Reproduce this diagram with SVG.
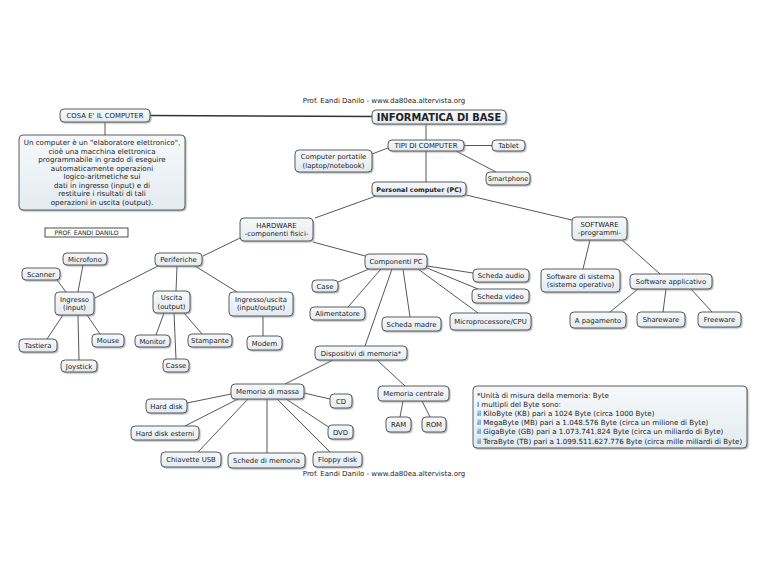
<svg xmlns="http://www.w3.org/2000/svg" width="768" height="578" viewBox="0 0 768 578">
<defs>
<linearGradient id="g" x1="0" y1="0" x2="0" y2="1"><stop offset="0" stop-color="#f6f9fb"/><stop offset="1" stop-color="#e3ebf0"/></linearGradient>
<filter id="sh" x="-10%" y="-20%" width="130%" height="150%"><feDropShadow dx="1.2" dy="1.2" stdDeviation="0.6" flood-color="#888" flood-opacity="0.6"/></filter>
</defs>
<style>
.n rect{fill:url(#g);stroke:#4a4a4a;stroke-width:0.9;filter:url(#sh)}
text{font-family:"DejaVu Sans","Liberation Sans",sans-serif;font-size:6.9px;fill:#222;text-anchor:middle}
.b{font-weight:bold}
.l{text-anchor:start}
.d{font-size:7.1px}
.t{font-size:7.1px;text-anchor:start}
#conn line{stroke:#444;stroke-width:0.9}
</style>
<rect width="768" height="578" fill="#fff"/>
<text x="384" y="103" style="font-size:7px">Prof. Eandi Danilo - www.da80ea.altervista.org</text>
<text x="384" y="476" style="font-size:7px">Prof. Eandi Danilo - www.da80ea.altervista.org</text>
<g id="conn">
<line x1="150" y1="115.5" x2="372" y2="116.5" style="stroke-width:1.6;stroke:#333"/>
<line x1="105" y1="122" x2="105" y2="135"/>
<line x1="426" y1="124" x2="426" y2="140"/>
<line x1="464" y1="145.5" x2="492" y2="145.5"/>
<line x1="388" y1="148" x2="372" y2="154"/>
<line x1="456" y1="151" x2="496" y2="172"/>
<line x1="426" y1="151" x2="426" y2="182"/>
<line x1="376" y1="196" x2="315" y2="218"/>
<line x1="466" y1="195" x2="572" y2="220"/>
<line x1="313" y1="242" x2="365" y2="256"/>
<line x1="240" y1="238" x2="203" y2="256"/>
<line x1="369" y1="269" x2="338" y2="282"/>
<line x1="381" y1="269" x2="348" y2="307"/>
<line x1="403" y1="269" x2="410" y2="317"/>
<line x1="418" y1="269" x2="478" y2="313"/>
<line x1="427" y1="266" x2="473" y2="273"/>
<line x1="427" y1="268" x2="478" y2="289"/>
<line x1="392" y1="269" x2="365" y2="346"/>
<line x1="160" y1="265" x2="95" y2="298"/>
<line x1="83" y1="265" x2="78" y2="292"/>
<line x1="57" y1="280" x2="66" y2="292"/>
<line x1="63" y1="315" x2="47" y2="339"/>
<line x1="78" y1="315" x2="79" y2="360"/>
<line x1="87" y1="315" x2="100" y2="334"/>
<line x1="177" y1="266" x2="176" y2="291"/>
<line x1="164" y1="313" x2="156" y2="335"/>
<line x1="174" y1="313" x2="176" y2="359"/>
<line x1="184" y1="313" x2="202" y2="334"/>
<line x1="195" y1="266" x2="237" y2="292"/>
<line x1="263" y1="316" x2="263" y2="336"/>
<line x1="590" y1="240" x2="583" y2="269"/>
<line x1="622" y1="240" x2="660" y2="274"/>
<line x1="638" y1="289" x2="610" y2="312"/>
<line x1="666" y1="289" x2="663" y2="312"/>
<line x1="691" y1="289" x2="712" y2="312"/>
<line x1="333" y1="360" x2="285" y2="384"/>
<line x1="377" y1="360" x2="405" y2="386"/>
<line x1="403" y1="401" x2="400" y2="417"/>
<line x1="422" y1="401" x2="430" y2="417"/>
<line x1="231" y1="394" x2="187" y2="403"/>
<line x1="238" y1="399" x2="185" y2="426"/>
<line x1="248" y1="399" x2="198" y2="452"/>
<line x1="267" y1="399" x2="267" y2="453"/>
<line x1="277" y1="399" x2="330" y2="452"/>
<line x1="304" y1="393" x2="330" y2="399"/>
<line x1="286" y1="399" x2="330" y2="428"/>
</g>
<g id="info" class="n"><rect x="372" y="110" width="134" height="14" rx="4"/><text x="439" y="120.7" class="b" style="font-size:9.9px">INFORMATICA DI BASE</text></g>
<g id="cosa" class="n"><rect x="60" y="109" width="90" height="13" rx="4"/><text x="105" y="118">COSA E' IL COMPUTER</text></g>
<g id="desc" class="n"><rect x="19" y="135" width="166" height="75" rx="4"/>
<text x="102" y="145" class="d">Un computer è un "elaboratore elettronico",</text>
<text x="102" y="153.5" class="d">cioè una macchina elettronica</text>
<text x="102" y="162" class="d">programmabile in grado di eseguire</text>
<text x="102" y="170.5" class="d">automaticamente operazioni</text>
<text x="102" y="179" class="d">logico-aritmetiche sui</text>
<text x="102" y="187.5" class="d">dati in ingresso (input) e di</text>
<text x="102" y="196" class="d">restituire i risultati di tali</text>
<text x="102" y="204.5" class="d">operazioni in uscita (output).</text></g>
<g id="tipi" class="n"><rect x="388" y="140" width="76" height="11" rx="4"/><text x="426" y="148">TIPI DI COMPUTER</text></g>
<g id="tablet" class="n"><rect x="492" y="140" width="33" height="11" rx="4"/><text x="508.5" y="148">Tablet</text></g>
<g id="portatile" class="n"><rect x="295" y="150" width="77" height="22" rx="4"/><text x="333.5" y="159">Computer portatile</text><text x="333.5" y="167.5">(laptop/notebook)</text></g>
<g id="smartphone" class="n"><rect x="486" y="172" width="44" height="13" rx="4"/><text x="508" y="181" style="font-size:6.6px">Smartphone</text></g>
<g id="pc" class="n"><rect x="372" y="182" width="94" height="14" rx="4"/><text x="419" y="191.5" class="b" style="font-size:6.4px">Personal computer (PC)</text></g>
<g id="hardware" class="n"><rect x="240" y="218" width="73" height="23" rx="4"/><text x="276.5" y="227.5">HARDWARE</text><text x="276.5" y="236">-componenti fisici-</text></g>
<g id="software" class="n"><rect x="572" y="217" width="55" height="23" rx="4"/><text x="599.5" y="226.5">SOFTWARE</text><text x="599.5" y="235">-programmi-</text></g>
<g id="componenti" class="n"><rect x="365" y="254" width="62" height="15" rx="4"/><text x="396" y="264">Componenti PC</text></g>
<g id="case" class="n"><rect x="312" y="280" width="26" height="12" rx="4"/><text x="325" y="288.5">Case</text></g>
<g id="alimentatore" class="n"><rect x="310" y="307" width="55" height="13" rx="4"/><text x="337.5" y="316">Alimentatore</text></g>
<g id="madre" class="n"><rect x="382" y="317" width="59" height="14" rx="4"/><text x="411.5" y="326.5">Scheda madre</text></g>
<g id="cpu" class="n"><rect x="450" y="313" width="81" height="17" rx="4"/><text x="490.5" y="324">Microprocessore/CPU</text></g>
<g id="audio" class="n"><rect x="473" y="269" width="56" height="13" rx="4"/><text x="501" y="278">Scheda audio</text></g>
<g id="video" class="n"><rect x="472" y="289" width="57" height="14" rx="4"/><text x="500.5" y="298.5">Scheda video</text></g>
<g id="dispositivi" class="n"><rect x="315" y="346" width="92" height="14" rx="4"/><text x="361" y="355.5">Dispositivi di memoria*</text></g>
<g id="prof"><rect x="45" y="228" width="83" height="9" fill="#fff" stroke="#222" stroke-width="0.8"/><text x="86.5" y="235" style="font-size:6.2px">PROF. EANDI DANILO</text></g>
<g id="periferiche" class="n"><rect x="155" y="253" width="47" height="13" rx="4"/><text x="178.5" y="262">Periferiche</text></g>
<g id="microfono" class="n"><rect x="63" y="253" width="44" height="12" rx="4"/><text x="85" y="261.5">Microfono</text></g>
<g id="scanner" class="n"><rect x="22" y="268" width="38" height="12" rx="4"/><text x="41" y="276.5">Scanner</text></g>
<g id="ingresso" class="n"><rect x="55" y="292" width="39" height="23" rx="4"/><text x="74.5" y="301.5">Ingresso</text><text x="74.5" y="310">(input)</text></g>
<g id="tastiera" class="n"><rect x="19" y="339" width="38" height="13" rx="4"/><text x="38" y="348">Tastiera</text></g>
<g id="joystick" class="n"><rect x="61" y="360" width="36" height="12" rx="4"/><text x="79" y="368.5">Joystick</text></g>
<g id="mouse" class="n"><rect x="92" y="334" width="32" height="13" rx="4"/><text x="108" y="343">Mouse</text></g>
<g id="uscita" class="n"><rect x="153" y="291" width="37" height="22" rx="4"/><text x="171.5" y="300">Uscita</text><text x="171.5" y="308.5">(output)</text></g>
<g id="monitor" class="n"><rect x="135" y="335" width="35" height="12" rx="4"/><text x="152.5" y="343.5">Monitor</text></g>
<g id="casse" class="n"><rect x="163" y="359" width="26" height="13" rx="4"/><text x="176" y="368">Casse</text></g>
<g id="stampante" class="n"><rect x="188" y="334" width="44" height="13" rx="4"/><text x="210" y="343">Stampante</text></g>
<g id="io" class="n"><rect x="229" y="292" width="64" height="24" rx="4"/><text x="261" y="301.5">Ingresso/uscita</text><text x="261" y="310">(input/output)</text></g>
<g id="modem" class="n"><rect x="247" y="336" width="35" height="14" rx="4"/><text x="264.5" y="345.5">Modem</text></g>
<g id="sistema" class="n"><rect x="541" y="269" width="79" height="23" rx="4"/><text x="580.5" y="278.5">Software di sistema</text><text x="580.5" y="287">(sistema operativo)</text></g>
<g id="applicativo" class="n"><rect x="630" y="274" width="82" height="15" rx="4"/><text x="671" y="284">Software applicativo</text></g>
<g id="pagamento" class="n"><rect x="570" y="312" width="56" height="16" rx="4"/><text x="598" y="322.5">A pagamento</text></g>
<g id="shareware" class="n"><rect x="637" y="312" width="48" height="15" rx="4"/><text x="661" y="322">Shareware</text></g>
<g id="freeware" class="n"><rect x="698" y="312" width="43" height="15" rx="4"/><text x="719.5" y="322">Freeware</text></g>
<g id="massa" class="n"><rect x="231" y="384" width="73" height="15" rx="4"/><text x="267.5" y="394">Memoria di massa</text></g>
<g id="centrale" class="n"><rect x="378" y="386" width="71" height="15" rx="4"/><text x="413.5" y="396">Memoria centrale</text></g>
<g id="ram" class="n"><rect x="386" y="417" width="25" height="15" rx="4"/><text x="398.5" y="427">RAM</text></g>
<g id="rom" class="n"><rect x="422" y="417" width="24" height="15" rx="4"/><text x="434" y="427">ROM</text></g>
<g id="harddisk" class="n"><rect x="146" y="399" width="41" height="14" rx="4"/><text x="166.5" y="408.5">Hard disk</text></g>
<g id="esterni" class="n"><rect x="131" y="426" width="68" height="14" rx="4"/><text x="165" y="435.5">Hard disk esterni</text></g>
<g id="usb" class="n"><rect x="161" y="452" width="60" height="15" rx="4"/><text x="191" y="462">Chiavette USB</text></g>
<g id="schede" class="n"><rect x="228" y="453" width="77" height="15" rx="4"/><text x="266.5" y="463">Schede di memoria</text></g>
<g id="floppy" class="n"><rect x="313" y="452" width="49" height="15" rx="4"/><text x="337.5" y="462">Floppy disk</text></g>
<g id="cd" class="n"><rect x="330" y="394" width="22" height="14" rx="4"/><text x="341" y="403.5">CD</text></g>
<g id="dvd" class="n"><rect x="328" y="425" width="25" height="14" rx="4"/><text x="340.5" y="434.5">DVD</text></g>
<g id="nota" class="n"><rect x="473" y="386" width="274" height="62" rx="4"/>
<text x="477" y="397.5" class="t">*Unità di misura della memoria: Byte</text>
<text x="477" y="406.7" class="t">I multipli del Byte sono:</text>
<text x="477" y="415.9" class="t">il KiloByte (KB) pari a 1024 Byte (circa 1000 Byte)</text>
<text x="477" y="425.1" class="t">il MegaByte (MB) pari a 1.048.576 Byte (circa un milione di Byte)</text>
<text x="477" y="434.3" class="t">il GigaByte (GB) pari a 1.073.741.824 Byte (circa un miliardo di Byte)</text>
<text x="477" y="443.5" class="t">il TeraByte (TB) pari a 1.099.511.627.776 Byte (circa mille miliardi di Byte)</text></g>
</svg>
